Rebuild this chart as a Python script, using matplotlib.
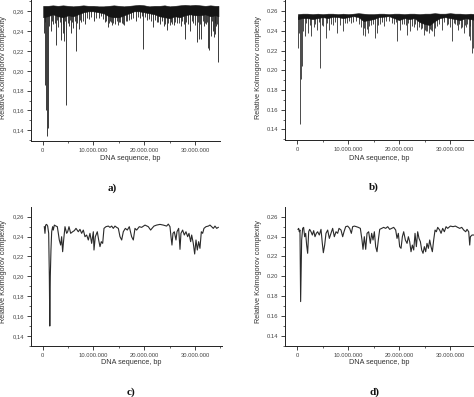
import numpy as np
import matplotlib
matplotlib.use("Agg")
import matplotlib.pyplot as plt
from matplotlib.ticker import MultipleLocator, FuncFormatter

plt.rcParams["font.family"] = ["Liberation Sans", "DejaVu Sans"]

MBP = 1e6

# ---- panel a: dense signal, drawn as band envelope + dips (Mbp, value)
a_env_x = [0.1] + list(range(1, 35)) + [34.6]
a_env_hi = [0.2655, 0.2655, 0.266, 0.2655, 0.266, 0.2655, 0.265, 0.2655, 0.266, 0.2655,
            0.2655, 0.265, 0.265, 0.2655, 0.266, 0.2655, 0.265, 0.2655, 0.266, 0.2665,
            0.266, 0.265, 0.2655, 0.2655, 0.266, 0.265, 0.2655, 0.266, 0.2665, 0.266,
            0.2665, 0.266, 0.2655, 0.266, 0.2655, 0.2655]
a_env_lo = [0.254, 0.255, 0.257, 0.255, 0.254, 0.256, 0.255, 0.257, 0.259, 0.260,
            0.260, 0.259, 0.258, 0.255, 0.254, 0.254, 0.256, 0.258, 0.260, 0.260,
            0.259, 0.258, 0.257, 0.255, 0.254, 0.253, 0.255, 0.254, 0.256, 0.257,
            0.256, 0.256, 0.257, 0.255, 0.256, 0.255]
a_dip_x = [0.19, 0.39, 0.65, 0.85, 1.04, 1.3, 1.57, 2.1, 2.62, 3.1,
           3.6, 3.9, 4.19, 4.59, 5.1, 5.57, 6.0, 6.55, 7.08, 7.6,
           8.33, 9.2, 10.1, 11.0, 12.2, 12.79, 13.2, 13.64, 14.3, 15.0,
           15.54, 16.0, 16.6, 17.3, 18.37, 19.1, 19.81, 20.6, 21.8, 22.43,
           23.1, 23.8, 24.4, 25.19, 25.8, 26.5, 27.2, 28.01, 28.6, 29.0,
           29.65, 30.31, 30.83, 31.2, 31.8, 32.1, 32.61, 32.74, 33.1, 33.46,
           33.7, 33.92, 34.2, 34.51]
a_dip_y = [0.238, 0.186, 0.160, 0.134, 0.142, 0.245, 0.240, 0.247, 0.226, 0.244,
           0.231, 0.238, 0.230, 0.166, 0.245, 0.238, 0.243, 0.220, 0.242, 0.249,
           0.247, 0.252, 0.250, 0.253, 0.249, 0.244, 0.250, 0.246, 0.247, 0.249,
           0.248, 0.246, 0.250, 0.252, 0.250, 0.253, 0.222, 0.251, 0.2445, 0.249,
           0.247, 0.245, 0.241, 0.249, 0.246, 0.248, 0.245, 0.232, 0.247, 0.240,
           0.248, 0.229, 0.232, 0.232, 0.245, 0.247, 0.223, 0.221, 0.235, 0.240,
           0.234, 0.237, 0.245, 0.209]
# short dips that make the ragged lower edge of the band
a_tick_x = [0.5, 1.8, 2.4, 2.9, 3.4, 4.0, 4.4, 4.9, 5.3, 5.8, 6.3, 6.8, 7.3, 7.9,
            8.7, 9.6, 10.5, 11.4, 11.8, 12.5, 13.0, 13.4, 13.9, 14.6, 14.9, 15.3,
            15.8, 16.3, 17.0, 17.7, 18.8, 19.5, 20.2, 21.0, 21.4, 22.1, 22.7, 23.4,
            24.1, 24.7, 25.0, 25.5, 26.1, 26.8, 27.5, 27.8, 28.3, 29.3, 29.9, 30.6,
            31.0, 31.5, 32.0, 32.4, 33.3, 34.0, 34.35]
a_tick_y = [0.249, 0.250, 0.248, 0.251, 0.249, 0.247, 0.250, 0.248, 0.251, 0.249, 0.250, 0.248, 0.251, 0.250,
            0.253, 0.254, 0.253, 0.255, 0.252, 0.250, 0.248, 0.249, 0.248, 0.250, 0.246, 0.249,
            0.247, 0.250, 0.251, 0.253, 0.254, 0.255, 0.254, 0.252, 0.250, 0.251, 0.249, 0.250,
            0.247, 0.248, 0.246, 0.247, 0.249, 0.248, 0.250, 0.247, 0.249, 0.250, 0.246, 0.249,
            0.247, 0.250, 0.248, 0.249, 0.250, 0.248, 0.247]

# ---- panel b
b_env_x = [0.1] + list(range(1, 36))
b_env_hi = [0.257, 0.2575, 0.2575, 0.257, 0.2575, 0.257, 0.2575, 0.2575, 0.257, 0.2575,
            0.257, 0.2575, 0.258, 0.2575, 0.257, 0.257, 0.2575, 0.2575, 0.257, 0.2575,
            0.2575, 0.257, 0.2575, 0.2575, 0.257, 0.2575, 0.2575, 0.258, 0.2575, 0.2575,
            0.258, 0.2575, 0.2575, 0.257, 0.2575, 0.257]
b_env_lo = [0.252, 0.253, 0.253, 0.252, 0.253, 0.254, 0.253, 0.2545, 0.254, 0.253,
            0.254, 0.255, 0.254, 0.250, 0.251, 0.252, 0.254, 0.2545, 0.255, 0.253,
            0.251, 0.253, 0.252, 0.253, 0.249, 0.247, 0.246, 0.250, 0.253, 0.254,
            0.253, 0.252, 0.251, 0.253, 0.252, 0.251]
b_dip_x = [0.13, 0.33, 0.52, 0.72, 0.92, 1.2, 1.57, 2.10, 2.69, 3.2,
           3.86, 4.52, 5.1, 5.57, 6.16, 7.0, 7.79, 8.97, 9.8, 10.61,
           11.5, 12.90, 13.36, 13.82, 14.5, 15.32, 15.65, 16.3, 16.96, 18.0,
           19.0, 19.58, 20.24, 21.0, 21.55, 22.20, 22.9, 23.51, 24.2, 24.82,
           25.3, 25.80, 26.3, 26.78, 27.5, 28.42, 29.3, 30.0, 30.39, 31.0,
           31.50, 32.1, 32.68, 33.2, 33.66, 34.0, 34.32, 34.6]
b_dip_y = [0.2227, 0.238, 0.1454, 0.1908, 0.2042, 0.240, 0.2345, 0.2378, 0.2345, 0.244,
           0.2412, 0.2025, 0.245, 0.2328, 0.2412, 0.246, 0.2378, 0.2395, 0.248, 0.2479,
           0.250, 0.2361, 0.2345, 0.2378, 0.246, 0.2328, 0.2378, 0.247, 0.2445, 0.250,
           0.247, 0.2294, 0.2412, 0.247, 0.2361, 0.2395, 0.244, 0.2412, 0.242, 0.2361,
           0.240, 0.2378, 0.241, 0.2345, 0.245, 0.2412, 0.246, 0.244, 0.2294, 0.247,
           0.2412, 0.243, 0.2378, 0.244, 0.2345, 0.2311, 0.2177, 0.223]
b_tick_x = [1.8, 2.4, 3.5, 4.2, 4.8, 5.9, 6.6, 7.4, 8.3, 9.3, 10.2, 11.0, 12.2,
            12.6, 13.1, 13.6, 14.1, 14.9, 15.9, 16.6, 17.4, 18.5, 19.3, 20.6, 21.3,
            21.8, 22.5, 23.2, 23.8, 24.5, 25.0, 25.5, 26.0, 26.5, 27.0, 27.9, 28.8,
            29.6, 30.7, 31.3, 31.8, 32.4, 32.9, 33.4, 33.9]
b_tick_y = [0.248, 0.246, 0.247, 0.249, 0.246, 0.248, 0.247, 0.249, 0.246, 0.248, 0.250, 0.249, 0.247,
            0.244, 0.243, 0.242, 0.245, 0.247, 0.246, 0.249, 0.250, 0.248, 0.249, 0.247, 0.246,
            0.248, 0.245, 0.247, 0.244, 0.243, 0.241, 0.240, 0.242, 0.240, 0.243, 0.247, 0.249,
            0.247, 0.248, 0.246, 0.247, 0.244, 0.246, 0.247, 0.245]

# ---- panel c
c_x = [0.32, 0.45, 0.58, 0.78, 0.98, 1.18, 1.31, 1.40, 1.50, 1.63,
       1.77, 1.96, 2.09, 2.29, 2.62, 2.88, 3.08, 3.27, 3.54, 3.73,
       3.93, 4.13, 4.39, 4.72, 4.92, 5.18, 5.51, 5.90, 6.23, 6.56,
       7.01, 7.34, 7.67, 8.00, 8.33, 8.66, 8.98, 9.31, 9.64, 9.97,
       10.10, 10.36, 10.75, 11.02, 11.28, 11.54, 11.81, 12.07, 12.46, 12.92,
       13.25, 13.58, 13.90, 14.23, 14.56, 14.89, 15.22, 15.55, 15.87, 16.27,
       16.66, 17.05, 17.51, 17.84, 18.17, 18.50, 19.02, 19.48, 20.14, 20.79,
       21.25, 21.52, 21.91, 22.43, 23.09, 23.75, 24.40, 24.73, 25.06, 25.26,
       25.45, 25.65, 25.91, 26.24, 26.44, 26.77, 27.03, 27.22, 27.55, 27.88,
       28.21, 28.54, 28.80, 29.13, 29.33, 29.65, 29.92, 30.18, 30.44, 30.70,
       30.96, 31.23, 31.49, 31.75, 32.15, 32.61, 32.93, 33.26, 33.59, 33.92,
       34.25, 34.57]
c_y = [0.2500, 0.2433, 0.2516, 0.2523, 0.2506, 0.2433, 0.2000, 0.1500, 0.2000, 0.2265,
       0.2449, 0.2500, 0.2466, 0.2516, 0.2506, 0.2500, 0.2433, 0.2366, 0.2315, 0.2399,
       0.2248, 0.2366, 0.2500, 0.2433, 0.2449, 0.2500, 0.2433, 0.2449, 0.2460, 0.2483,
       0.2449, 0.2473, 0.2433, 0.2466, 0.2399, 0.2416, 0.2366, 0.2433, 0.2332, 0.2449,
       0.2265, 0.2399, 0.2449, 0.2366, 0.2299, 0.2349, 0.2332, 0.2483, 0.2500, 0.2506,
       0.2493, 0.2506, 0.2483, 0.2506, 0.2493, 0.2483, 0.2399, 0.2366, 0.2449, 0.2483,
       0.2466, 0.2500, 0.2399, 0.2366, 0.2483, 0.2466, 0.2500, 0.2493, 0.2516, 0.2500,
       0.2466, 0.2483, 0.2506, 0.2516, 0.2523, 0.2516, 0.2506, 0.2526, 0.2500, 0.2399,
       0.2315, 0.2433, 0.2449, 0.2366, 0.2449, 0.2483, 0.2272, 0.2433, 0.2466, 0.2416,
       0.2449, 0.2399, 0.2433, 0.2349, 0.2416, 0.2332, 0.2225, 0.2366, 0.2265, 0.2349,
       0.2282, 0.2449, 0.2433, 0.2483, 0.2500, 0.2506, 0.2516, 0.2500, 0.2483, 0.2506,
       0.2483, 0.2493]

# ---- panel d
d_x = [0.13, 0.26, 0.39, 0.52, 0.65, 0.85, 1.05, 1.24, 1.44, 1.64,
       1.83, 2.03, 2.23, 2.42, 2.69, 2.95, 3.21, 3.47, 3.73, 3.99,
       4.32, 4.65, 4.91, 5.11, 5.37, 5.63, 5.96, 6.29, 6.61, 6.94,
       7.27, 7.60, 7.92, 8.19, 8.58, 8.91, 9.17, 9.50, 9.89, 10.28,
       10.61, 10.87, 11.20, 11.59, 11.98, 12.38, 12.70, 12.90, 13.16, 13.43,
       13.69, 14.01, 14.34, 14.60, 14.87, 15.13, 15.39, 15.65, 15.91, 16.18,
       16.57, 16.96, 17.35, 17.75, 18.14, 18.53, 18.93, 19.32, 19.58, 19.84,
       20.10, 20.37, 20.63, 20.89, 21.22, 21.55, 21.81, 22.07, 22.33, 22.59,
       22.86, 23.12, 23.38, 23.64, 23.90, 24.17, 24.43, 24.69, 24.95, 25.21,
       25.47, 25.74, 26.00, 26.26, 26.52, 26.78, 27.05, 27.31, 27.57, 27.96,
       28.23, 28.55, 28.88, 29.21, 29.53, 30.06, 30.58, 31.04, 31.50, 31.89,
       32.29, 32.68, 33.07, 33.33, 33.66, 33.86, 33.99, 34.32, 34.71]
d_y = [0.2473, 0.2483, 0.2449, 0.2466, 0.1746, 0.2366, 0.2483, 0.2493, 0.2399, 0.2433,
       0.2315, 0.2232, 0.2449, 0.2473, 0.2449, 0.2416, 0.2460, 0.2399, 0.2433, 0.2449,
       0.2416, 0.2473, 0.2332, 0.2238, 0.2315, 0.2433, 0.2466, 0.2382, 0.2433, 0.2483,
       0.2399, 0.2449, 0.2433, 0.2483, 0.2466, 0.2399, 0.2449, 0.2500, 0.2506, 0.2483,
       0.2433, 0.2500, 0.2506, 0.2500, 0.2493, 0.2483, 0.2366, 0.2272, 0.2399, 0.2272,
       0.2433, 0.2449, 0.2332, 0.2433, 0.2366, 0.2449, 0.2299, 0.2248, 0.2366, 0.2473,
       0.2483, 0.2493, 0.2483, 0.2500, 0.2473, 0.2483, 0.2493, 0.2466, 0.2382, 0.2433,
       0.2299, 0.2282, 0.2399, 0.2449, 0.2366, 0.2332, 0.2399, 0.2349, 0.2248, 0.2315,
       0.2265, 0.2433, 0.2299, 0.2449, 0.2382, 0.2349, 0.2265, 0.2232, 0.2299, 0.2248,
       0.2332, 0.2282, 0.2366, 0.2299, 0.2248, 0.2366, 0.2466, 0.2449, 0.2493, 0.2466,
       0.2433, 0.2483, 0.2449, 0.2500, 0.2483, 0.2506, 0.2500, 0.2506, 0.2493, 0.2483,
       0.2493, 0.2466, 0.2449, 0.2473, 0.2449, 0.2315, 0.2399, 0.2416, 0.2416]

W, H = 474, 397
fig = plt.figure(figsize=(W / 100, H / 100), dpi=100)

def px_axes(l, r, t, b):
    return fig.add_axes([l / W, 1 - b / H, (r - l) / W, (b - t) / H])

def style(ax, xlim, ylim, comma):
    ax.set_xlim(*xlim)
    ax.set_ylim(*ylim)
    for s in ("top", "right"):
        ax.spines[s].set_visible(False)
    for s in ("left", "bottom"):
        ax.spines[s].set_linewidth(0.7)
        ax.spines[s].set_color("#222222")
    ax.xaxis.set_major_locator(MultipleLocator(10e6))
    ax.xaxis.set_minor_locator(MultipleLocator(5e6))
    ax.yaxis.set_major_locator(MultipleLocator(0.02))
    ax.yaxis.set_minor_locator(MultipleLocator(0.01))
    ax.xaxis.set_major_formatter(FuncFormatter(lambda v, p: f"{int(round(v)):,}".replace(",", ".")))
    if comma:
        ax.yaxis.set_major_formatter(FuncFormatter(lambda v, p: f"{v:.2f}".replace(".", ",")))
    else:
        ax.yaxis.set_major_formatter(FuncFormatter(lambda v, p: f"{v:.2f}"))
    ax.tick_params(which="major", direction="out", length=3.2, width=0.6, pad=2,
                   labelsize=4.2, colors="#222222", labelcolor="#444444")
    ax.tick_params(which="minor", direction="out", length=1.6, width=0.5, colors="#222222")

# axes boxes (pixels: left, right, top, bottom)
ax_a = px_axes(31, 220, 0, 141)
ax_b = px_axes(285, 474, 0, 140)
ax_c = px_axes(31, 222, 207, 346)
ax_d = px_axes(285, 474, 207, 346)

ylim_top = (0.1292, 0.2714)
ylim_bot = (0.1299, 0.2698)

# a
ax_a.vlines(np.array(a_dip_x) * MBP, a_dip_y, 0.262, color="#3a3a3a", lw=0.7, zorder=2)
ax_a.vlines(np.array(a_tick_x) * MBP, a_tick_y, 0.262, color="#222222", lw=0.6, zorder=2)
ax_a.fill_between(np.array(a_env_x) * MBP, a_env_lo, a_env_hi, color="#151515", lw=0.4,
                  edgecolor="#151515", zorder=3)
style(ax_a, (-2.3e6, 34.9e6), ylim_top, True)

# b
ax_b.vlines(np.array(b_dip_x) * MBP, b_dip_y, 0.255, color="#4a4a4a", lw=0.7, zorder=2)
ax_b.vlines(np.array(b_tick_x) * MBP, b_tick_y, 0.255, color="#2a2a2a", lw=0.6, zorder=2)
ax_b.fill_between(np.array(b_env_x) * MBP, b_env_lo, b_env_hi, color="#151515", lw=0.4,
                  edgecolor="#151515", zorder=3)
style(ax_b, (-2.42e6, 34.7e6), ylim_top, False)

# c
ax_c.plot(np.array(c_x) * MBP, c_y, color="#2a2a2a", lw=0.8)
style(ax_c, (-2.3e6, 35.3e6), ylim_bot, True)

# d
ax_d.plot(np.array(d_x) * MBP, d_y, color="#2a2a2a", lw=0.8)
style(ax_d, (-2.42e6, 34.7e6), ylim_bot, False)

lab = dict(fontsize=5.2, color="#333333")
for xc, yc in [(130, 159), (379, 158), (131, 363), (379, 363)]:
    fig.text(xc / W, 1 - yc / H, "DNA sequence, bp", ha="center", va="center", **lab)
for xc, yc in [(3.5, 68), (258.7, 68), (3.5, 272), (258.7, 272)]:
    fig.text(xc / W, 1 - yc / H, "Relative Kolmogorov complexity", rotation=90,
             ha="center", va="center", **lab)
for t, xc, yc in [("a)", 112, 188), ("b)", 374, 187), ("c)", 131, 392), ("d)", 374, 392)]:
    fig.text(xc / W, 1 - yc / H, t, ha="center", va="center", fontsize=8,
             fontweight="bold", family=["Liberation Serif", "DejaVu Serif"], color="#111111")

fig.savefig("out.png", dpi=100)
